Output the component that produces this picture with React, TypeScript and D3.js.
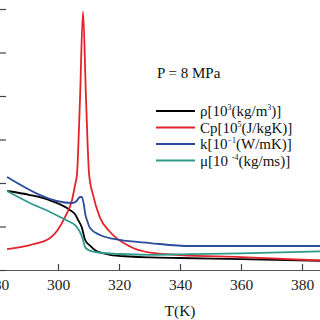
import React, { useRef, useEffect } from 'react';
import * as d3 from 'd3';

// values: [T (K), scaled property]
const rhoData: [number, number][] = [
  [283.3, 0.908], [290.8, 0.862], [297.4, 0.8], [303.9, 0.69], [305.6, 0.64],
  [306.6, 0.575], [307.8, 0.49], [308.9, 0.345], [310.5, 0.28], [312.1, 0.23],
  [317.0, 0.175], [323.6, 0.155], [330.2, 0.145], [340, 0.138], [360, 0.126], [390, 0.103]
];
const cpData: [number, number][] = [
  [283.3, 0.241], [290.8, 0.287], [297.4, 0.368], [302.3, 0.609], [304.6, 0.805],
  [305.6, 0.977], [306.2, 1.09], [307.2, 1.95], [308.2, 2.97], [309.2, 1.95],
  [310.2, 1.1], [311.5, 0.86], [313.8, 0.6], [317.0, 0.44], [323.6, 0.27],
  [330.2, 0.2], [340, 0.172], [360, 0.149], [390, 0.103]
];
const kData: [number, number][] = [
  [283.3, 1.069], [304.6, 0.77], [306.0, 0.79], [307.2, 0.839], [307.8, 0.839],
  [308.5, 0.747], [309.0, 0.632], [309.5, 0.575], [310.5, 0.483], [313.8, 0.402],
  [320.3, 0.345], [330.2, 0.31], [343.3, 0.276], [390, 0.276]
];
const muData: [number, number][] = [
  [283.3, 0.908], [290.8, 0.77], [297.4, 0.667], [300.7, 0.609], [303.9, 0.552],
  [305.6, 0.517], [307.2, 0.437], [308.2, 0.345], [308.9, 0.264], [310.0, 0.23],
  [312.1, 0.207], [320.3, 0.184], [330.2, 0.175], [340, 0.18], [360, 0.19], [390, 0.218]
];

const xTicks = [280, 300, 320, 340, 360, 380];
const yTicks = [0, 0.5, 1, 1.5, 2, 2.5, 3];

const series = [
  { data: rhoData, color: '#000000', base: 'ρ[10', sup: '3', rest: '(kg/m', sup2: '3', end: ')]' },
  { data: cpData, color: '#e3232b', base: 'Cp[10', sup: '5', rest: '(J/kgK)]', sup2: '', end: '' },
  { data: kData, color: '#2b4c9c', base: 'k[10', sup: '−1', rest: '(W/mK)]', sup2: '', end: '' },
  { data: muData, color: '#2f9a8b', base: 'μ[10 ', sup: '-4', rest: '(kg/ms)]', sup2: '', end: '' }
];

const App: React.FC = () => {
  const ref = useRef<SVGSVGElement | null>(null);

  useEffect(() => {
    const svg = d3.select(ref.current);
    svg.selectAll('*').remove();
    const width = 320;
    const height = 320;

    const x = d3.scaleLinear().domain([280, 390]).range([-3, 332.5]);
    const y = d3.scaleLinear().domain([0, 3]).range([270, 9]);

    const font = '"Liberation Serif", "DejaVu Serif", serif';

    const xAxis = svg.append('g')
      .attr('transform', 'translate(0,270)')
      .call(d3.axisBottom(x).tickValues(xTicks).tickSize(-6).tickSizeOuter(0).tickPadding(9).tickFormat(d3.format('d')));
    xAxis.select('.domain').attr('stroke', '#555').attr('stroke-width', 1.2);
    xAxis.selectAll('.tick line').attr('stroke', '#444').attr('stroke-width', 1.2);
    xAxis.selectAll('.tick text').attr('font-family', font).attr('font-size', 15.5).attr('fill', '#222');

    // y tick labels sit outside the cropped frame, so only the inward ticks show
    const yAxis = svg.append('g')
      .attr('transform', 'translate(-1,0)')
      .call(d3.axisLeft(y).tickValues(yTicks).tickSize(-7).tickSizeOuter(0).tickFormat(() => ''));
    yAxis.select('.domain').attr('stroke', '#555');
    yAxis.selectAll('.tick line').attr('stroke', '#444').attr('stroke-width', 1.2);

    const line = d3.line<[number, number]>()
      .x((d) => x(d[0]))
      .y((d) => y(d[1]))
      .curve(d3.curveMonotoneX);

    series.forEach((s) => {
      svg.append('path')
        .datum(s.data)
        .attr('fill', 'none')
        .attr('stroke', s.color)
        .attr('stroke-width', 1.8)
        .attr('d', line as any);
    });

    svg.append('text')
      .attr('x', 180).attr('y', 316)
      .attr('text-anchor', 'middle')
      .attr('font-family', font).attr('font-size', 15.5).attr('fill', '#111')
      .text('T(K)');

    svg.append('text')
      .attr('x', 157).attr('y', 78)
      .attr('font-family', font).attr('font-size', 15).attr('fill', '#111')
      .text('P = 8 MPa');

    series.forEach((s, i) => {
      const ly = 111 + i * 16.5;
      svg.append('line')
        .attr('x1', 156).attr('x2', 195)
        .attr('y1', ly).attr('y2', ly)
        .attr('stroke', s.color).attr('stroke-width', 2);
      const t = svg.append('text')
        .attr('x', 200).attr('y', ly + 5)
        .attr('font-family', font).attr('font-size', 15).attr('fill', '#111');
      t.append('tspan').text(s.base);
      t.append('tspan').attr('font-size', 8).attr('dy', -6).text(s.sup);
      t.append('tspan').attr('dy', 6).text(s.rest);
      if (s.sup2) {
        t.append('tspan').attr('font-size', 8).attr('dy', -6).text(s.sup2);
        t.append('tspan').attr('dy', 6).text(s.end);
      }
    });

    svg.attr('width', width).attr('height', height);
  }, []);

  return (
    <svg ref={ref} style={{ position: 'absolute', left: 0, top: 0, background: '#fff' }} />
  );
};

export default App;
